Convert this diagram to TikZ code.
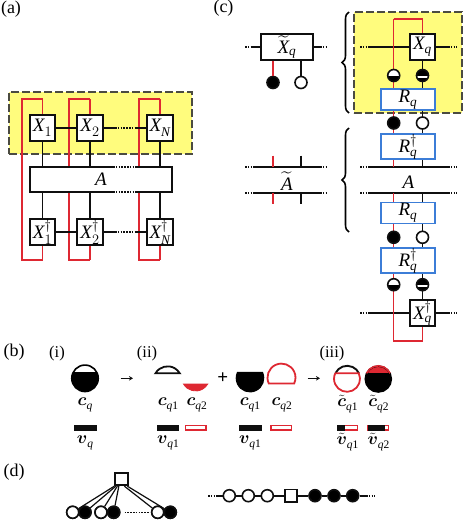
\documentclass[tikz,border=0pt]{standalone}
\usepackage{amsmath}
\usepackage{amssymb}
\usepackage{xcolor}
\usepackage{fontspec}
\setmainfont{Liberation Serif}
\usepackage{tikz}
\usetikzlibrary{arrows.meta,positioning,calc,decorations.pathreplacing}
\definecolor{tnedge}{RGB}{15,15,15}
\definecolor{tnred}{RGB}{222,40,50}
\definecolor{tnblue}{RGB}{60,125,215}
\definecolor{tnyellow}{RGB}{255,252,125}
\definecolor{tndash}{RGB}{75,75,65}
\newcommand{\mi}[1]{\textit{#1}}
\newcommand{\Xq}[2]{$\mi{X}_{#1}^{#2}$}
\newcommand{\Rq}[1]{$\mi{R}_{\mi{q}}^{#1}$}
\newcommand{\cv}[2]{$\boldsymbol{#1}$\raisebox{-3.5pt}{\fontsize{11.5}{11.5}\selectfont\textit{q}#2}}
\newcommand{\cvt}[2]{$\tilde{\boldsymbol{#1}}$\raisebox{-3.5pt}{\fontsize{11.5}{11.5}\selectfont\textit{q}#2}}
\tikzset{
  tensor/.style={
    draw=tnedge, fill=white, line width=1.8pt, minimum size=25.5pt,
    inner sep=0pt, font=\fontsize{19}{19}\selectfont
  },
  rbox/.style={
    draw=tnblue, fill=white, line width=1.6pt, inner sep=0pt,
    minimum width=53.5pt, minimum height=21pt, font=\fontsize{19}{19}\selectfont
  },
  yel/.style={draw=tndash, fill=tnyellow, line width=1.4pt, dash pattern=on 8pt off 3pt},
  leg/.style={draw=tnedge, line width=1.7pt},
  rleg/.style={draw=tnred, line width=1.5pt},
  dots/.style={draw=tnedge, line width=1.6pt, dash pattern=on 1.6pt off 1.2pt},
  dotw/.style={circle, draw=tnedge, fill=white, line width=1.6pt, minimum size=12pt, inner sep=0pt},
  dotb/.style={dotw, fill=black},
  halfw/.style={dotw, path picture={
    \fill[black] (path picture bounding box.west) rectangle (path picture bounding box.south east);}},
  halfb/.style={dotb, path picture={
    \fill[white] ([yshift=-0.6pt]path picture bounding box.west) rectangle ([yshift=-2.6pt]path picture bounding box.east);}},
  tag/.style={font=\fontsize{18}{18}\selectfont, inner sep=0pt},
  lab/.style={font=\fontsize{16.5}{16.5}\selectfont, inner sep=0pt},
  sym/.style={font=\fontsize{19}{19}\selectfont, inner sep=0pt},
  arr/.style={-{Stealth[length=4pt,width=4.5pt]}, draw=tnedge, line width=1.5pt},
  vbar/.style={draw=tnedge, fill=tnedge, line width=0.8pt},
  vred/.style={draw=tnred, fill=white, line width=1.3pt},
  brc/.style={draw=black, line width=1.6pt, decorate, decoration={brace, amplitude=7pt}}
}
\begin{document}
\begin{tikzpicture}[x=1pt,y=-1pt]
  \useasboundingbox (0,0) rectangle (474,530);

  % panel labels
  \node[tag] (la) at (11,9) {(a)};
  \node[tag] (lc) at (223.5,8.5) {(c)};
  \node[tag] (lb) at (14,352) {(b)};
  \node[tag] (ld) at (14,472.5) {(d)};

  % panel (a)
  \node[yel, minimum width=183pt, minimum height=62pt] (yela) at (100.5,123) {};
  \coordinate (t1) at (42.5,99);
  \coordinate (t2) at (90,99);
  \coordinate (tn) at (160,99);
  \coordinate (b1) at (42.5,260);
  \coordinate (b2) at (90,260);
  \coordinate (bn) at (160,260);
  \draw[rleg] (t1) -- (22,99) -- (22,260) -- (b1);
  \draw[rleg] (t2) -- (69,99) -- (69,260) -- (b2);
  \draw[rleg] (tn) -- (139,99) -- (139,260) -- (bn);
  \node[tensor] (x1) at (42.5,128) {\Xq{1}{}};
  \node[tensor] (x2) at (90,128) {\Xq{2}{}};
  \node[tensor] (xn) at (160,128) {\Xq{\mi{N}}{}};
  \node[tensor] (y1) at (42.5,232) {\Xq{1}{\dagger}};
  \node[tensor] (y2) at (90,232) {\Xq{2}{\dagger}};
  \node[tensor] (yn) at (160,232) {\Xq{\mi{N}}{\dagger}};
  \node[tensor, minimum width=142pt, minimum height=25pt] (amat) at (101,179.5) {\mi{A}};
  \draw[rleg] (t1) -- (x1);
  \draw[rleg] (t2) -- (x2);
  \draw[rleg] (tn) -- (xn);
  \draw[rleg] (b1) -- (y1);
  \draw[rleg] (b2) -- (y2);
  \draw[rleg] (bn) -- (yn);
  \draw[leg] (x1) -- (amat.north -| x1);
  \draw[leg] (x2) -- (amat.north -| x2);
  \draw[leg] (xn) -- (amat.north -| xn);
  \draw[leg] (y1) -- (amat.south -| y1);
  \draw[leg] (y2) -- (amat.south -| y2);
  \draw[leg] (yn) -- (amat.south -| yn);
  \draw[leg] (x1) -- (x2);
  \draw[leg] (y1) -- (y2);
  \draw[leg] (x2.east) -- ++(12,0);
  \draw[leg] (xn.west) -- ++(-10,0);
  \draw[leg] (y2.east) -- ++(12,0);
  \draw[leg] (yn.west) -- ++(-10,0);
  \draw[dots] (115,128) -- (137,128);
  \draw[dots] (115,232) -- (137,232);
  \draw[white, line width=2pt] (113,167) -- (135,167) (113,192) -- (135,192);
  \draw[dots] (113,167) -- (135,167);
  \draw[dots] (113,192) -- (135,192);

  % panel (c), left column
  \node[tensor, minimum width=52pt] (xtil) at (287,47) {$\widetilde{\mi{X}}_{\mi{q}}$};
  \node[dotb] (cb) at (273,82.5) {};
  \node[dotw] (cw) at (301,82.5) {};
  \draw[rleg] (cb |- xtil.south) -- (cb);
  \draw[leg] (cw |- xtil.south) -- (cw);
  \draw[leg] (xtil.west) -- ++(-8,0);
  \draw[leg] (xtil.east) -- ++(7,0);
  \draw[dots] (245,47) -- (253,47);
  \draw[dots] (320,47) -- (328,47);
  \node[sym] (atil) at (287,181) {$\widetilde{\mi{A}}$};
  \coordinate (au) at (253,167);
  \coordinate (ad) at (253,193);
  \draw[leg] (au) -- ++(67,0);
  \draw[leg] (ad) -- ++(67,0);
  \draw[dots] (245,167) -- (au);
  \draw[dots] (320,167) -- (328,167);
  \draw[dots] (245,193) -- (ad);
  \draw[dots] (320,193) -- (328,193);
  \draw[rleg] (273,155.5) -- (273,167);
  \draw[leg] (301,155.5) -- (301,167);
  \draw[rleg] (273,193) -- (273,204);
  \draw[leg] (301,193) -- (301,204);

  % panel (c), braces
  \coordinate (br1) at (349,113);
  \coordinate (br2) at (349,12);
  \coordinate (br3) at (349,232);
  \coordinate (br4) at (349,128);
  \draw[brc] (br1) -- (br2);
  \draw[brc] (br3) -- (br4);

  % panel (c), right column
  \node[yel, minimum width=108pt, minimum height=101pt] (yelc) at (408,62.5) {};
  \coordinate (rt1) at (393.7,19);
  \coordinate (rt2) at (422.5,19);
  \coordinate (rb1) at (393.7,341);
  \coordinate (rb2) at (422.5,341);
  \draw[leg] (368,47) -- (448,47);
  \draw[dots] (360,47) -- (368,47);
  \draw[dots] (448,47) -- (457,47);
  \draw[leg] (368,167) -- (448,167);
  \draw[dots] (360,167) -- (368,167);
  \draw[dots] (448,167) -- (457,167);
  \draw[leg] (368,193) -- (448,193);
  \draw[dots] (360,193) -- (368,193);
  \draw[dots] (448,193) -- (457,193);
  \draw[leg] (368,313) -- (448,313);
  \draw[dots] (360,313) -- (368,313);
  \draw[dots] (448,313) -- (457,313);
  \node[sym] (achain) at (408.5,182) {\mi{A}};
  \draw[rleg] (rt1) -- (393.7,167);
  \draw[rleg] (393.7,193) -- (rb1) -- (rb2);
  \draw[rleg] (rt1) -- (rt2);
  \draw[leg] (422.5,47) -- (422.5,167);
  \draw[leg] (422.5,193) -- (422.5,313);
  \draw[rleg] (rt2) -- (422.5,47);
  \draw[rleg] (rb2) -- (422.5,313);
  \node[tensor] (xq) at (422.5,47) {\Xq{\mi{q}}{}};
  \node[tensor] (xqd) at (422.5,313) {\Xq{\mi{q}}{\dagger}};
  \node[halfw] (h1) at (393.7,75.5) {};
  \node[halfb] (h2) at (422.5,75.5) {};
  \node[rbox] (r1) at (408,99.5) {\Rq{}};
  \node[dotb] (d1) at (393.7,123) {};
  \node[dotw] (d2) at (422.5,123) {};
  \node[rbox] (r2) at (408,146.5) {\Rq{\dagger}};
  \node[rbox] (r3) at (408,213) {\Rq{}};
  \node[dotb] (d3) at (393.7,237.3) {};
  \node[dotw] (d4) at (422.5,237.3) {};
  \node[rbox] (r4) at (408,260.5) {\Rq{\dagger}};
  \node[halfw] (h3) at (393.7,284.7) {};
  \node[halfb] (h4) at (422.5,284.7) {};

  % panel (b)
  \node[lab] (li) at (57,354) {(i)};
  \node[lab] (lii) at (147,354) {(ii)};
  \node[lab] (liii) at (332,354) {(iii)};
  \node[circle, draw=black, fill=white, line width=1.6pt, minimum size=26.5pt, inner sep=0pt,
    path picture={\fill[black] (-20,-6) rectangle (20,20);}] (cq) at (85,378.3) {};
  \coordinate (ar1a) at (120.7,378.3);
  \coordinate (ar1b) at (133,378.3);
  \draw[arr] (ar1a) -- (ar1b);
  \draw[leg, line width=1.8pt, fill=white] (155.5,373.3) arc[start angle=210, end angle=330, radius=14] -- cycle;
  \draw[draw=tnred, fill=tnred, line width=0.8pt] (183.5,384) arc[start angle=150, end angle=30, radius=14] -- cycle;
  \node[sym] (plus) at (222.7,378) {\textbf{+}};
  \draw[draw=black, fill=black, line width=1pt] (237.5,372.3) -- (262.5,372.3) arc[start angle=-25, end angle=205, radius=13.8] -- cycle;
  \draw[rleg, line width=1.8pt, fill=white] (268.8,383.5) arc[start angle=155, end angle=385, radius=14] -- cycle;
  \coordinate (ar2a) at (307.7,378.3);
  \coordinate (ar2b) at (320,378.3);
  \draw[arr] (ar2a) -- (ar2b);
  \draw[leg, line width=1.9pt] (335.4,373.3) arc[start angle=205, end angle=335, radius=13];
  \draw[rleg, line width=1.8pt, fill=white] (335.2,373.3) -- (358.8,373.3) arc[start angle=-25, end angle=205, radius=13] -- cycle;
  \node[circle, draw=black, fill=black, line width=1.6pt, minimum size=26pt, inner sep=0pt,
    path picture={\fill[tnred] (-20,-20) rectangle (20,-5.7);}] (ct2) at (378.3,379) {};
  \draw[tnred, line width=1.6pt] (366.5,373.3) arc[start angle=205, end angle=335, radius=13];
  % tensor labels
  \node[sym] (lca) at (85,405) {\cv{c}{}};
  \node[sym] (lcb) at (168,405) {\cv{c}{1}};
  \node[sym] (lcc) at (196.7,405) {\cv{c}{2}};
  \node[sym] (lcd) at (250,405) {\cv{c}{1}};
  \node[sym] (lce) at (281.7,405) {\cv{c}{2}};
  \node[sym] (lcf) at (347.5,404) {\cvt{c}{1}};
  \node[sym] (lcg) at (378.5,404) {\cvt{c}{2}};
  \node[sym] (lva) at (85,443) {\cv{v}{}};
  \node[sym] (lvb) at (168,443) {\cv{v}{1}};
  \node[sym] (lvd) at (250,443) {\cv{v}{1}};
  \node[sym] (lvf) at (347.5,442) {\cvt{v}{1}};
  \node[sym] (lvg) at (378.5,442) {\cvt{v}{2}};
  \draw[vbar] (74.5,425.5) rectangle (96,430);
  \draw[vbar] (157,425.5) rectangle (178,430);
  \draw[vred] (185.2,425.5) rectangle (206,430);
  \draw[vbar] (239.5,425.5) rectangle (261,430);
  \draw[vred] (271,425.5) rectangle (291.5,430);
  \draw[vred] (337.3,425.5) rectangle (357.5,430);
  \draw[vbar] (337.3,425.5) rectangle (344,430);
  \draw[vred] (368,425.5) rectangle (388.8,430);
  \draw[vbar] (368,425.5) rectangle (384,430);

  % panel (d)
  \node[tensor, minimum size=12.5pt] (sq1) at (121.5,479) {};
  \node[dotw] (f1) at (72.7,512.3) {};
  \node[dotb] (f2) at (85,512.3) {};
  \node[dotw] (f3) at (101,512.3) {};
  \node[dotb] (f4) at (113.7,512.3) {};
  \node[dotw] (f5) at (157.7,512.3) {};
  \node[dotb] (f6) at (170.3,512.3) {};
  \foreach \n/\dx in {f1/0,f2/1.5,f3/3,f4/4.5,f5/10,f6/13}
    \draw[leg, line width=1.2pt] ($(sq1.south west)+(\dx,0)$) -- (\n);
  \foreach \n in {f2,f4,f6}
    \node[dotb] at (\n) {};
  \foreach \n in {f1,f3,f5}
    \node[dotw] at (\n) {};
  \draw[dots] (f4.east) ++(4,0) -- ++(24,0);

  \node[dotw] (w1) at (229.3,495.7) {};
  \node[dotw] (w2) at (248.3,495.7) {};
  \node[dotw] (w3) at (267.3,495.7) {};
  \node[tensor, minimum size=12.5pt] (sq2) at (291,495.7) {};
  \node[dotb] (k1) at (315,495.7) {};
  \node[dotb] (k2) at (334,495.7) {};
  \node[dotb] (k3) at (352.7,495.7) {};
  \draw[leg] (w1) -- (w2);
  \draw[leg] (w2) -- (w3);
  \draw[leg] (w3) -- (sq2);
  \draw[leg] (sq2) -- (k1);
  \draw[leg] (k1) -- (k2);
  \draw[leg] (k2) -- (k3);
  \draw[leg] (w1) -- ++(-13,0);
  \draw[leg] (k3) -- ++(13,0);
  \draw[dots] (208,495.7) -- (216,495.7);
  \draw[dots] (366,495.7) -- (375,495.7);
\end{tikzpicture}
\end{document}
